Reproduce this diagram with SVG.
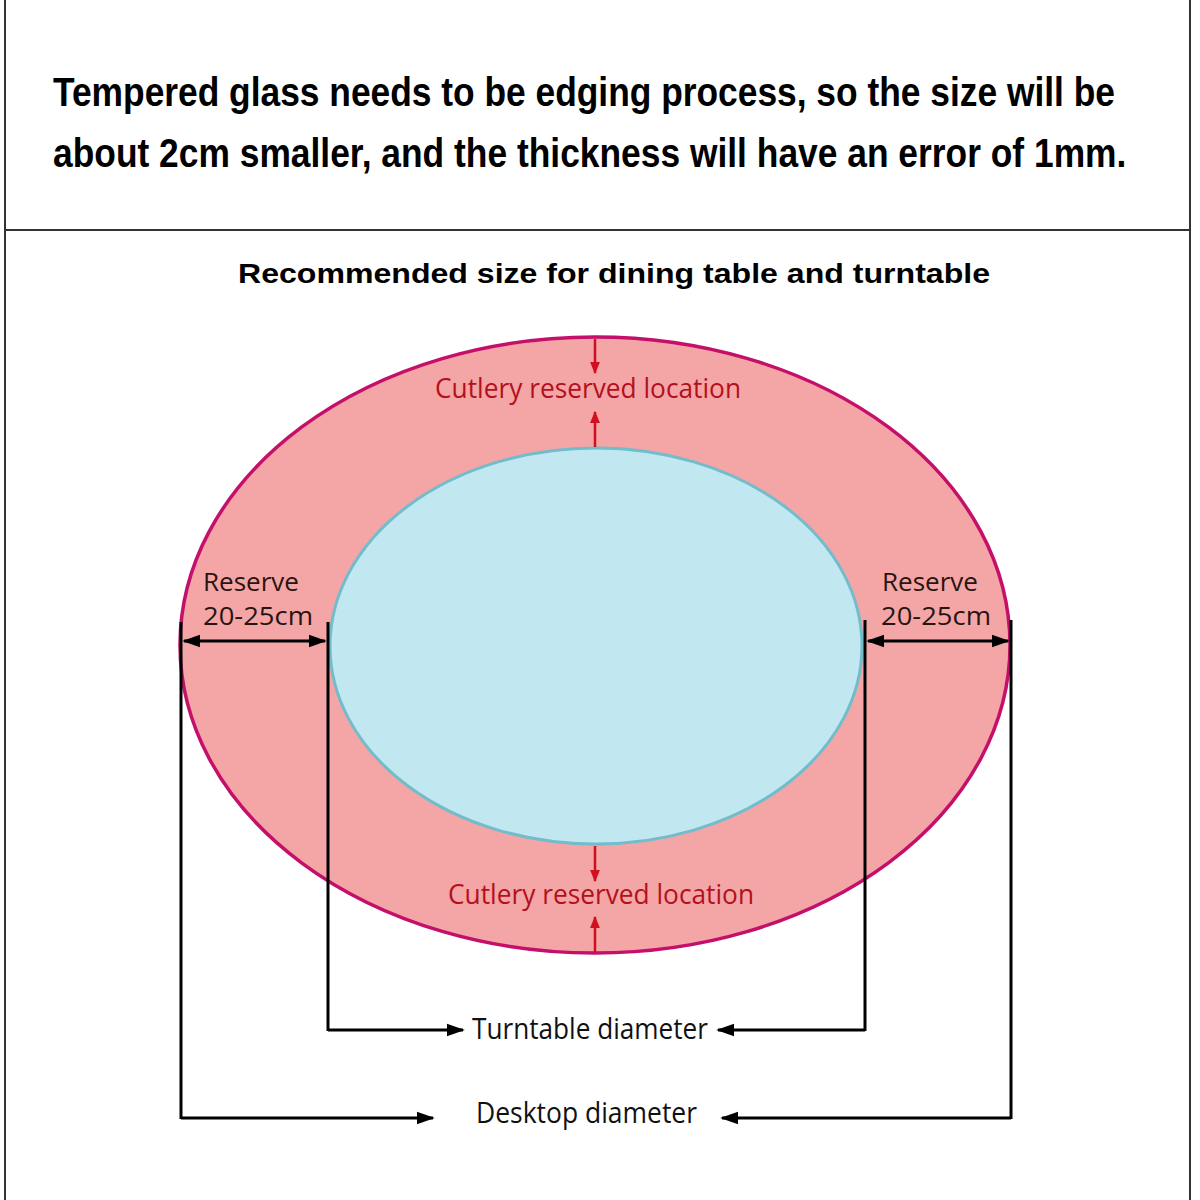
<svg xmlns="http://www.w3.org/2000/svg" width="1200" height="1200" viewBox="0 0 1200 1200">
<style>
.frame{stroke:#333;stroke-width:2;fill:none}
.head{font-family:"Liberation Sans",Arial,sans-serif;font-weight:bold;font-size:41px;fill:#000}
.title{font-family:"Liberation Sans",Arial,sans-serif;font-weight:bold;font-size:28px;fill:#000}
.red{font-family:"Open Sans","Noto Sans",sans-serif;font-size:28px;fill:#b3101e}
.dark{font-family:"Open Sans","Noto Sans",sans-serif;font-size:25px;fill:#2a1410}
.blk{font-family:"Open Sans","Noto Sans",sans-serif;font-size:29px;fill:#111}
.dim{stroke:#000;stroke-width:3;fill:none}
.rarr{stroke:#d01020;stroke-width:2.5;fill:none}
</style>
<defs>
<marker id="ahs" viewBox="0 0 10 10" refX="9" refY="5" markerWidth="6" markerHeight="6" orient="auto-start-reverse" markerUnits="strokeWidth"><path d="M0,1.5 L10,5 L0,8.5 z" fill="#000"/></marker>
<marker id="rh" viewBox="0 0 10 10" refX="9" refY="5" markerWidth="5" markerHeight="5" orient="auto" markerUnits="strokeWidth"><path d="M0,1 L10,5 L0,9 z" fill="#d01020"/></marker>
</defs>
<rect width="1200" height="1200" fill="#fff"/>
<g id="frame">
<line class="frame" x1="5" y1="0" x2="5" y2="1200"/>
<line class="frame" x1="1190" y1="0" x2="1190" y2="1200"/>
<line class="frame" x1="5" y1="230" x2="1190" y2="230"/>
</g>
<g id="header">
<text class="head" transform="translate(53,106) scale(0.82,1)" textLength="1295" lengthAdjust="spacingAndGlyphs">Tempered glass needs to be edging process, so the size will be</text>
<text class="head" transform="translate(53,167) scale(0.82,1)" textLength="1309" lengthAdjust="spacingAndGlyphs">about 2cm smaller, and the thickness will have an error of 1mm.</text>
<text class="title" x="614" y="283" text-anchor="middle" textLength="752" lengthAdjust="spacingAndGlyphs">Recommended size for dining table and turntable</text>
</g>
<g id="desktop">
<ellipse cx="595" cy="645" rx="415" ry="308" fill="#f4a5a5" stroke="#c4106a" stroke-width="3.5"/>
</g>
<g id="turntable">
<ellipse cx="596" cy="646" rx="266" ry="198" fill="#c1e8f0" stroke="#72bccb" stroke-width="3"/>
</g>
<g id="labels">
<text class="red" x="588" y="398" text-anchor="middle" textLength="306" lengthAdjust="spacingAndGlyphs">Cutlery reserved location</text>
<text class="red" x="601" y="904" text-anchor="middle" textLength="306" lengthAdjust="spacingAndGlyphs">Cutlery reserved location</text>
<text class="dark" x="203" y="591" textLength="96" lengthAdjust="spacingAndGlyphs">Reserve</text>
<text class="dark" x="203" y="625" textLength="110" lengthAdjust="spacingAndGlyphs">20-25cm</text>
<text class="dark" x="882" y="591" textLength="96" lengthAdjust="spacingAndGlyphs">Reserve</text>
<text class="dark" x="881" y="625" textLength="110" lengthAdjust="spacingAndGlyphs">20-25cm</text>
<text class="blk" x="472" y="1039" textLength="236" lengthAdjust="spacingAndGlyphs">Turntable diameter</text>
<text class="blk" x="476" y="1123" textLength="221" lengthAdjust="spacingAndGlyphs">Desktop diameter</text>
</g>
<g id="connectors">
<line class="rarr" x1="595" y1="339" x2="595" y2="373" marker-end="url(#rh)"/>
<line class="rarr" x1="595" y1="447" x2="595" y2="412" marker-end="url(#rh)"/>
<line class="rarr" x1="595" y1="846" x2="595" y2="881" marker-end="url(#rh)"/>
<line class="rarr" x1="595" y1="952" x2="595" y2="917" marker-end="url(#rh)"/>
<line class="dim" x1="181" y1="622" x2="181" y2="1119"/>
<line class="dim" x1="328" y1="622" x2="328" y2="1031"/>
<line class="dim" x1="865" y1="620" x2="865" y2="1031"/>
<line class="dim" x1="1011" y1="620" x2="1011" y2="1119"/>
<line class="dim" stroke-width="2.5" x1="184" y1="641" x2="325" y2="641" marker-start="url(#ahs)" marker-end="url(#ahs)"/>
<line class="dim" stroke-width="2.5" x1="868" y1="641" x2="1008" y2="641" marker-start="url(#ahs)" marker-end="url(#ahs)"/>
<polyline class="dim" points="328,1030 463,1030" marker-end="url(#ahs)"/>
<polyline class="dim" points="865,1030 718,1030" marker-end="url(#ahs)"/>
<polyline class="dim" points="181,1118 433,1118" marker-end="url(#ahs)"/>
<polyline class="dim" points="1011,1118 722,1118" marker-end="url(#ahs)"/>
</g>
</svg>
